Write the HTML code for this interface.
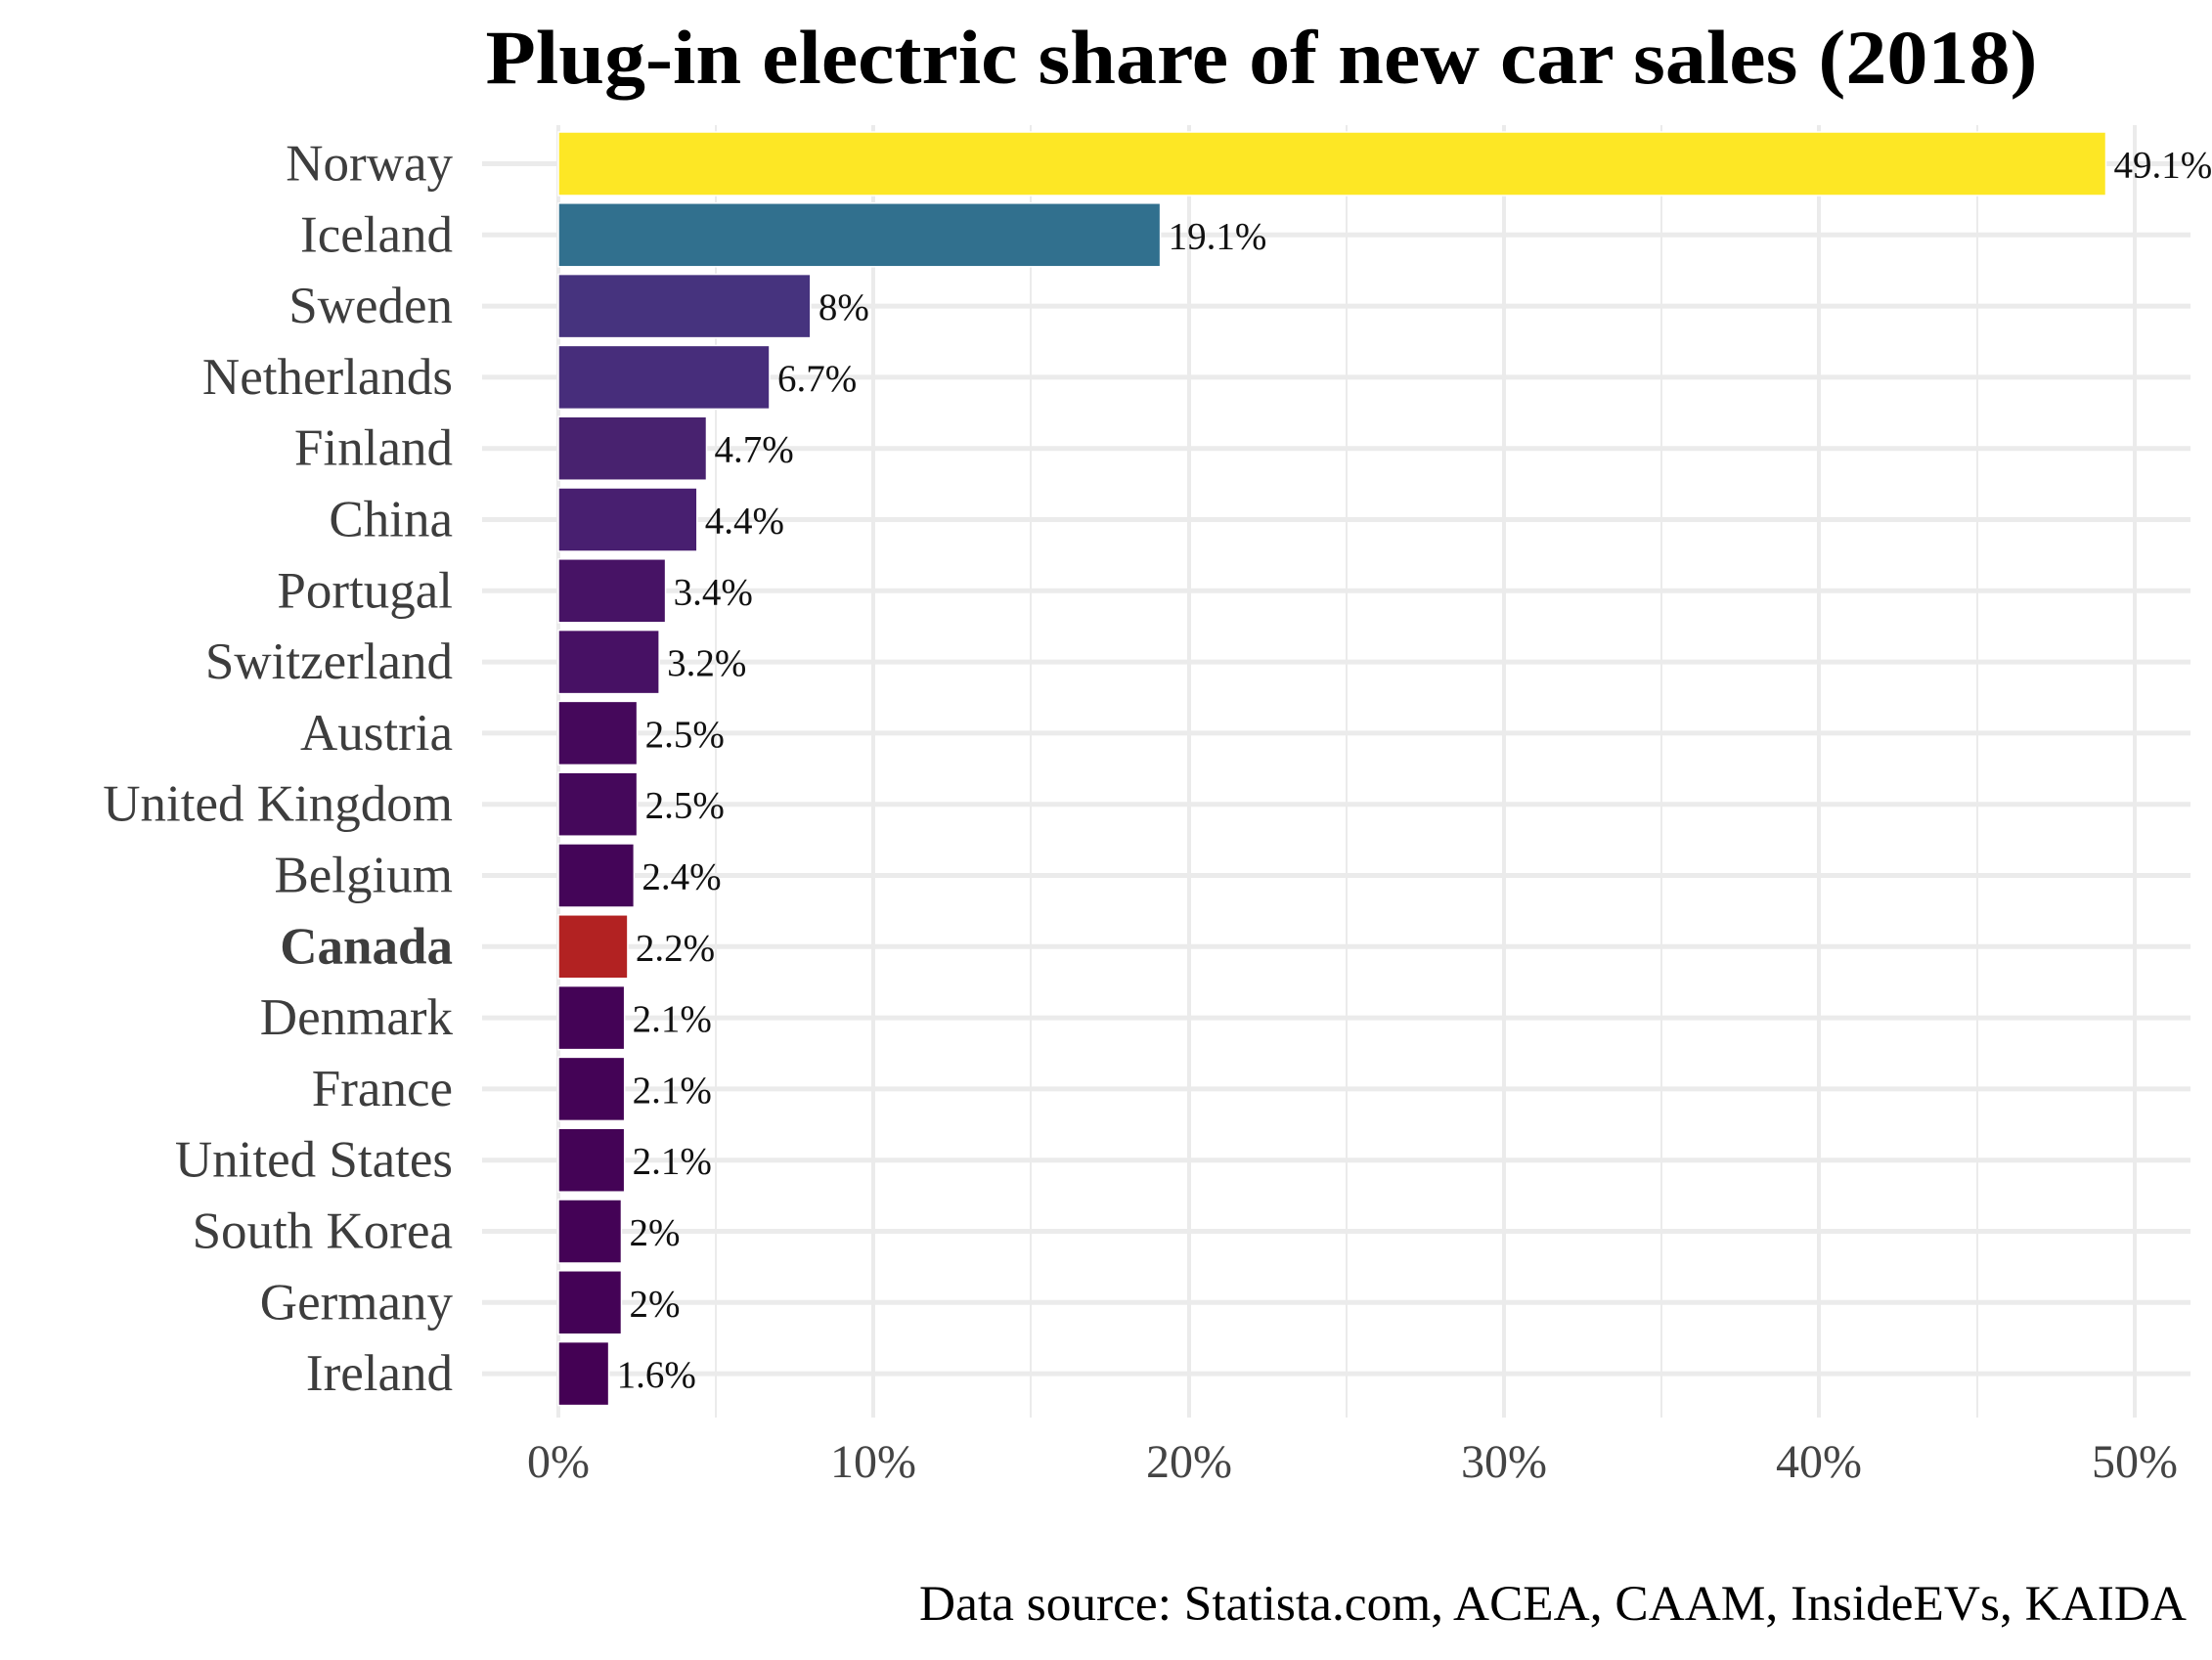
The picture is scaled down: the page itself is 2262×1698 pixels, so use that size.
<!DOCTYPE html>
<html><head><meta charset="utf-8"><style>html,body{margin:0;padding:0;background:#fff;width:2262px;height:1698px;overflow:hidden}</style></head>
<body>
<svg width="2262" height="1698" xmlns="http://www.w3.org/2000/svg" font-family="Liberation Serif, serif">
<rect width="2262" height="1698" fill="#fff"/>
<g stroke="#ebebeb">
<g stroke-width="2">
<line x1="732" y1="128" x2="732" y2="1450"/><line x1="1054" y1="128" x2="1054" y2="1450"/><line x1="1377" y1="128" x2="1377" y2="1450"/><line x1="1699" y1="128" x2="1699" y2="1450"/><line x1="2022" y1="128" x2="2022" y2="1450"/>
</g>
<g stroke-width="4">
<line x1="571" y1="128" x2="571" y2="1450"/><line x1="893" y1="128" x2="893" y2="1450"/><line x1="1216" y1="128" x2="1216" y2="1450"/><line x1="1538" y1="128" x2="1538" y2="1450"/><line x1="1860" y1="128" x2="1860" y2="1450"/><line x1="2183" y1="128" x2="2183" y2="1450"/>
</g>
<g stroke-width="5" id="h"></g>
</g>
<g id="bars"></g>
<text x="1290" y="85" text-anchor="middle" font-size="78" font-weight="bold" textLength="1587" lengthAdjust="spacingAndGlyphs" fill="#000">Plug-in electric share of new car sales (2018)</text>
<g font-size="48" fill="#444" text-anchor="middle">
<text x="571" y="1511">0%</text><text x="893" y="1511">10%</text><text x="1216" y="1511">20%</text><text x="1538" y="1511">30%</text><text x="1860" y="1511">40%</text><text x="2183" y="1511">50%</text>
</g>
<text x="2236" y="1657" text-anchor="end" font-size="51" fill="#000" textLength="1296" lengthAdjust="spacingAndGlyphs">Data source: Statista.com, ACEA, CAAM, InsideEVs, KAIDA</text>
<script>
var d=[["Norway",49.1,"#fde725","49.1%"],["Iceland",19.1,"#31708e","19.1%"],["Sweden",8,"#46337e","8%"],["Netherlands",6.7,"#472d7b","6.7%"],["Finland",4.7,"#48226f","4.7%"],["China",4.4,"#481f70","4.4%"],["Portugal",3.4,"#471365","3.4%"],["Switzerland",3.2,"#471164","3.2%"],["Austria",2.5,"#45085b","2.5%"],["United Kingdom",2.5,"#45085b","2.5%"],["Belgium",2.4,"#440558","2.4%"],["Canada",2.2,"#b22222","2.2%"],["Denmark",2.1,"#440356","2.1%"],["France",2.1,"#440356","2.1%"],["United States",2.1,"#440356","2.1%"],["South Korea",2,"#440256","2%"],["Germany",2,"#440256","2%"],["Ireland",1.6,"#440154","1.6%"]];
var ns="http://www.w3.org/2000/svg",h=document.getElementById("h"),b=document.getElementById("bars");
function el(t,a,p,txt){var e=document.createElementNS(ns,t);for(var k in a)e.setAttribute(k,a[k]);if(txt)e.textContent=txt;p.appendChild(e);return e;}
d.forEach(function(r,i){var top=135+72.8*i,c=top+32.5,w=r[1]*32.23;
el("line",{x1:493,y1:c,x2:2240,y2:c},h);
el("rect",{x:571,y:top,width:w,height:65,fill:r[2],stroke:"#fff","stroke-width":1.5},b);
el("text",{x:463,y:c+17,"text-anchor":"end","font-size":53,fill:"#3d3d3d","font-weight":r[0]=="Canada"?"bold":"normal"},b,r[0]);
el("text",{x:571+w+8,y:c+14,"font-size":39,fill:"#111"},b,r[3]);
});
</script>
</svg>
</body></html>
